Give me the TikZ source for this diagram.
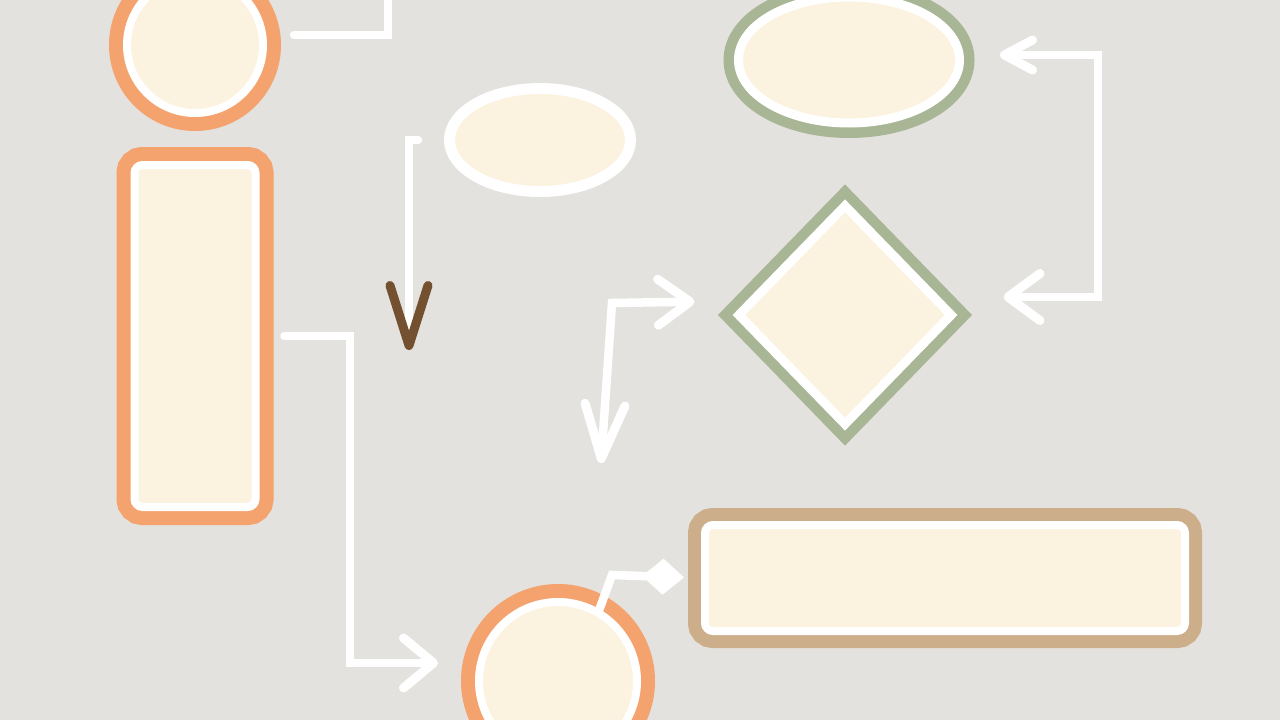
\documentclass[tikz,border=0pt]{standalone}
\usepackage{tikz}
\usetikzlibrary{shapes.geometric, arrows.meta, positioning}
\usetikzlibrary{calc}
\usepackage{xcolor}
\definecolor{bggray}{HTML}{E4E2DE}
\definecolor{cream}{HTML}{FBF2DF}
\definecolor{ringorange}{HTML}{F4A26E}
\definecolor{ringgreen}{HTML}{A8B696}
\definecolor{ringtan}{HTML}{CDAE8A}
\definecolor{vbrown}{HTML}{73502F}

\begin{document}
\begin{tikzpicture}[x=1pt, y=-1pt,
		orangering/.style={fill=cream, draw=white, line width=8pt, inner sep=0pt, preaction={draw=ringorange, line width=36pt}},
		greenring/.style={fill=cream, draw=white, line width=9pt, inner sep=0pt, preaction={draw=ringgreen, line width=30pt}},
		tanring/.style={fill=cream, draw=white, line width=8pt, inner sep=0pt, preaction={draw=ringtan, line width=34pt}},
		whitering/.style={fill=cream, draw=white, line width=11pt, inner sep=0pt},
		flowline/.style={draw=white, line width=8.5pt, line join=miter, line cap=round}]
		\useasboundingbox (0,0) rectangle (1280,720);
		\fill[bggray] (0,0) rectangle (1280,720);
		\clip (0,0) rectangle (1280,720);
		
		% shapes
		\node[orangering, circle, minimum size=136pt] (topcirc) at (195,45) {};
		\node[orangering, rectangle, rounded corners=8pt, minimum width=121pt, minimum height=342pt] (tallbox) at (195,336) {};
		\node[whitering, ellipse, minimum width=181pt, minimum height=103pt] (midell) at (540,140) {};
		\node[greenring, ellipse, minimum width=221pt, minimum height=126pt] (topell) at (849,60) {};
		\node[greenring, diamond, minimum width=216pt, minimum height=222pt] (dec) at (845,315) {};
		\node[tanring, rectangle, rounded corners=8pt, minimum width=480pt, minimum height=106pt] (widebox) at (945,578) {};
		\node[orangering, circle, minimum size=158pt] (botcirc) at (558,681) {};
		
		\coordinate (topexit) at (388,-10);
		\coordinate (vtip) at (409,350);
		\coordinate (cbend) at (350,500);
		\coordinate (ctip) at (438,663);
		\coordinate (dbottom) at (601,463);
		\coordinate (dcorner) at (612,303);
		\coordinate (rbend) at (1098,180);
		\coordinate (fbend) at (612,575);
		
		% connectors
		\draw[flowline, shorten <=27pt] ([yshift=10pt]topcirc.east) -| (topexit);
		\draw[flowline, shorten <=26pt, -{Straight Barb[color=vbrown, length=60pt, width=38pt, line width=9pt, round]}] (midell.west) -| (vtip);
		\draw[flowline, shorten <=25pt, -{Straight Barb[length=30pt, width=50pt, line width=9pt, round]}] (tallbox.east) -| (cbend) |- (ctip);
		\draw[flowline, shorten >=38pt, {Straight Barb[length=54pt, width=40pt, line width=9pt, round]}-{Straight Barb[length=32pt, width=46pt, line width=9pt, round]}] (dbottom) -- (dcorner) -- ([yshift=14pt]dec.west);
		\draw[flowline, shorten <=36pt, shorten >=46pt, {Straight Barb[length=28pt, width=30pt, line width=9pt, round]}-{Straight Barb[length=32pt, width=47pt, line width=9pt, round]}] ([yshift=5pt]topell.east) -| (rbend) |- ([yshift=18pt]dec.east);
		\draw[flowline, shorten >=17pt, -{Diamond[length=42pt, width=36pt, fill=white]}] (botcirc.60) -- (fbend) -- (widebox.west);
	\end{tikzpicture}
\end{document}
